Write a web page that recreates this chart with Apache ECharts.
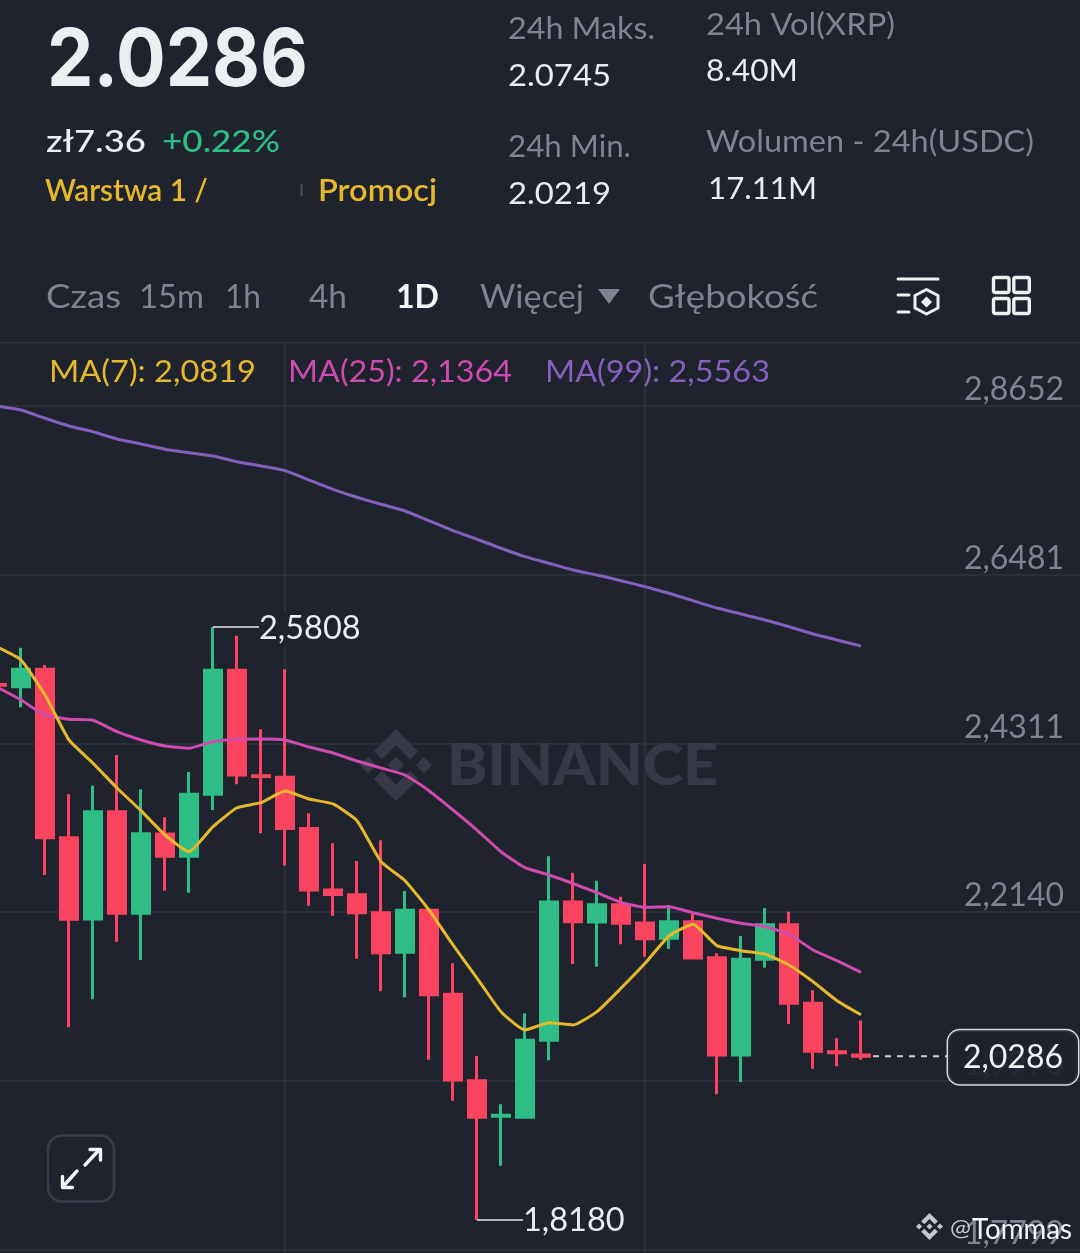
<!DOCTYPE html>
<html>
<head>
<meta charset="utf-8">
<style>html,body{margin:0;padding:0;background:#1e232d}#c{width:1080px;height:1253px}</style>
<script src="https://cdn.jsdelivr.net/npm/echarts@6/dist/echarts.min.js"></script>
</head>
<body>
<div id="c"></div>
<script>
const opens  = [2.5068,2.5040,2.5264,2.3097,2.2051,2.3432,2.2125,2.3145,2.2858,2.3656,2.5251,2.3895,2.3875,2.3216,2.2425,2.2364,2.2132,2.1623,2.2163,2.1083,1.9971,1.9515,1.9500,2.0491,2.2270,2.2013,2.2235,2.2000,2.1803,2.2017,2.1553,2.0302,2.1533,2.1978,2.0967,2.0342,2.0300];
const closes = [2.5058,2.5264,2.3097,2.2047,2.3432,2.2125,2.3149,2.2858,2.3656,2.5251,2.3904,2.3885,2.3216,2.2425,2.2365,2.2132,2.1618,2.2163,2.1077,1.9980,1.9500,1.9525,2.0491,2.2270,2.2017,2.2235,2.1996,2.1798,2.2017,2.1550,2.0302,2.1533,2.1978,2.0967,2.0349,2.0330,2.0286];
const highs  = [2.5075,2.5542,2.5320,2.3656,2.3766,2.4161,2.3720,2.3360,2.3943,2.5808,2.5697,2.4492,2.5264,2.3411,2.3025,2.2798,2.3064,2.2412,2.2163,2.1481,2.0289,1.9667,2.0838,2.2859,2.2647,2.2544,2.2338,2.2759,2.2232,2.2116,2.1610,2.1833,2.2193,2.2145,2.1134,2.0516,2.0745];
const lows   = [2.5049,2.4775,2.2617,2.0658,2.1018,2.1759,2.1524,2.2416,2.2390,2.3454,2.3785,2.3154,2.2740,2.2223,2.2094,2.1541,2.1121,2.1044,2.0241,1.9713,1.8180,1.8877,1.9500,2.0233,2.1472,2.1438,2.1726,2.1566,2.1665,2.1533,1.9796,1.9954,2.1425,2.0700,2.0125,2.0156,2.0240];
const ma7  = [2.5551,2.5384,2.4934,2.4355,2.4055,2.3737,2.3445,2.3132,2.2917,2.3239,2.3483,2.3548,2.3698,2.3595,2.3531,2.3316,2.2789,2.2544,2.2167,2.1717,2.1292,2.0859,2.0623,2.0717,2.0688,2.0859,2.1160,2.1481,2.1833,2.1983,2.1708,2.1644,2.1601,2.1460,2.1245,2.1000,2.0819];
const ma25 = [2.5036,2.4869,2.4676,2.4621,2.4608,2.4461,2.4355,2.4277,2.4248,2.4333,2.4363,2.4367,2.4355,2.4264,2.4187,2.4084,2.3994,2.3904,2.3702,2.3454,2.3196,2.2917,2.2711,2.2617,2.2508,2.2390,2.2266,2.2202,2.2210,2.2132,2.2060,2.1996,2.1952,2.1855,2.1653,2.1515,2.1364];
const ma99 = [2.8652,2.8601,2.8494,2.8395,2.8321,2.8227,2.8163,2.8095,2.8051,2.8009,2.7935,2.7880,2.7820,2.7700,2.7580,2.7477,2.7387,2.7301,2.7176,2.7048,2.6937,2.6821,2.6713,2.6628,2.6542,2.6477,2.6404,2.6327,2.6242,2.6147,2.6053,2.5976,2.5899,2.5812,2.5718,2.5641,2.5563];
const yTicks = [2.8652,2.6481,2.4311,2.2140,1.9970,1.7799];
const lastPrice = 2.0286;
const highMark = 2.5808;
const lowMark = 1.8180;
const categories = [];
for (let n = 1; n <= 46; n++) categories.push('D' + n);
const gridDays = [categories[12], categories[27]];

const BG='#1e232d', GRID='#2f343e', GREY='#7f8590', WHITE='#eaecef', YEL='#e6b82c', GREEN='#2ebd85', RED='#fb4560', PINK='#cf4bb0', PURP='#8560bd';
const FONT='Lato';
const comma = v => v.toFixed(4).replace('.', ',');

const mctx = document.createElement('canvas').getContext('2d');
function t(text,x,cy,w,size,fill,weight,family,z){
  const fam = family||FONT, wt = weight||400;
  mctx.font = wt+' '+size+'px "'+fam+'"';
  const m = mctx.measureText(text).width;
  return {type:'text',x:x,y:cy+1,scaleX:w?w/m:1,z:z==null?10:z,silent:true,
    style:{text:text,x:0,y:0,fontFamily:fam,fontSize:size,fontWeight:wt,fill:fill,verticalAlign:'middle',align:'left'}};
}
const LOGO_PIECES=[
  [[38.73,53.2],[63.32,28.62],[87.92,53.22],[102.22,38.91],[63.32,0],[24.42,38.9]],
  [[0,63.31],[14.3,49],[28.61,63.31],[14.3,77.61]],
  [[38.73,73.41],[63.32,98],[87.92,73.4],[102.23,87.69],[63.33,126.6],[24.42,87.72]],
  [[98,63.31],[112.3,49],[126.61,63.3],[112.3,77.62]],
  [[77.83,63.3],[63.32,48.78],[48.81,63.28],[63.32,77.8]]
];
const logo=(x,y,s,fill,z)=>LOGO_PIECES.map(p=>({type:'polygon',z:z,silent:true,
  shape:{points:p.map(q=>[x+q[0]*s/126.61,y+q[1]*s/126.61])},style:{fill:fill}}));
const line=(a,b,c,d,col,w)=>({type:'line',z:10,silent:true,shape:{x1:a,y1:b,x2:c,y2:d},style:{stroke:col,lineWidth:w,lineCap:'round'}});
const sq=(x,y)=>({type:'rect',z:10,silent:true,shape:{x:x,y:y,width:15.5,height:15,r:2},style:{fill:'none',stroke:'#f0f1f3',lineWidth:3.4}});
const poly=(pts,st)=>({type:'polyline',z:10,silent:true,shape:{points:pts},style:Object.assign({fill:'none',stroke:'#f0f1f3',lineWidth:3,lineJoin:'round',lineCap:'round'},st||{})});

const graphic=[
  {type:'rect',z:1,silent:true,shape:{x:0,y:342,width:1080,height:1.5},style:{fill:GRID}},
  t('2.0286',47,61,261,80,'#eceef1',700,'Inter'),
  t('zł7.36',46,141,100,31,'#eceef1',500),
  t('+0.22%',162,141,118,31,GREEN,500),
  t('Warstwa 1 /',45,190,163,30,YEL,600),
  {type:'rect',z:10,silent:true,shape:{x:300.5,y:184,width:2,height:12},style:{fill:'#4a4f58'}},
  t('Promocj',318,190,119,30,YEL,600),
  t('24h Maks.',508,28,147,31,GREY),
  t('2.0745',508,75,103,31,WHITE),
  t('24h Min.',508,146,123,31,GREY),
  t('2.0219',508,193,103,31,WHITE),
  t('24h Vol(XRP)',706,24,189,31,GREY),
  t('8.40M',706,70,92,31,WHITE),
  t('Wolumen - 24h(USDC)',706,141,328,31,GREY),
  t('17.11M',708,188,109,31,WHITE),
  t('Czas',46,297,75,32,GREY),
  t('15m',139,297,65,32,GREY),
  t('1h',225,297,36,32,GREY),
  t('4h',309,297,38,32,GREY),
  t('1D',396,297,43,32,'#f4f5f7',700),
  t('Więcej',480,297,104,32,GREY),
  {type:'polygon',z:10,silent:true,shape:{points:[[598,289],[620,289],[609,304]]},style:{fill:GREY}},
  t('Głębokość',648,297,170,32,GREY),
  line(898,279,938,279,'#f0f1f3',3),
  line(898,295,909,295,'#f0f1f3',3),
  line(898,312,909,312,'#f0f1f3',3),
  {type:'polygon',z:10,silent:true,shape:{points:[[926.5,289.5],[938,295.5],[938,308],[926.5,314],[915,308],[915,295.5]]},style:{fill:'none',stroke:'#f0f1f3',lineWidth:3,lineJoin:'round'}},
  {type:'polygon',z:10,silent:true,shape:{points:[[926.5,296.5],[932,302],[926.5,307.5],[921,302]]},style:{fill:'#f0f1f3'}},
  sq(993.5,277.5),sq(1013.8,277.5),sq(993.5,298.5),sq(1013.8,298.5),
  t('MA(7): 2,0819',49,371,207,30,YEL),
  t('MA(25): 2,1364',288,371,224,30,PINK),
  t('MA(99): 2,5563',545,371,225,30,PURP),
  ...logo(360,729,72,'#353a46',1),
  t('BINANCE',447,765,271,58,'#353a46',900,FONT,1),
  {type:'rect',z:10,silent:true,shape:{x:48,y:1135.5,width:66,height:66,r:14},style:{fill:'none',stroke:'#383d48',lineWidth:2.5}},
  line(85,1165,99,1150,'#f4f5f7',3.4),
  poly([[90,1149.5],[100.5,1149.5],[100.5,1160]],{lineWidth:3.4,stroke:'#f4f5f7'}),
  line(77,1171,63.5,1186,'#f4f5f7',3.4),
  poly([[62.5,1176.5],[62.5,1187.5],[72.5,1187.5]],{lineWidth:3.4,stroke:'#f4f5f7'}),
  ...logo(916,1213,27,'#c4c7cc',10),
  t('@',950,1227,21,24,'#c4c7cc'),
  t('Tommas',972,1229,100,28,'#f4f5f7')
];

const chart = echarts.init(document.getElementById('c'), null, {renderer:'canvas'});
chart.setOption({
  animation:false,
  backgroundColor:BG,
  grid:{left:-15,top:342,width:1104,height:911,containLabel:false,outerBoundsMode:'none'},
  xAxis:{type:'category',data:categories,boundaryGap:true,axisLine:{show:false},axisTick:{show:false},axisLabel:{show:false},splitLine:{show:false}},
  yAxis:{type:'value',position:'right',min:1.7754,max:2.9475,scale:true,
    axisLine:{show:false},
    axisTick:{show:false,customValues:yTicks},
    axisLabel:{inside:true,margin:25,customValues:yTicks,color:GREY,fontFamily:FONT,fontSize:32,verticalAlign:'bottom',formatter:comma},
    splitLine:{show:true,lineStyle:{color:GRID,width:1.5}}},
  graphic:graphic,
  series:[
    {type:'line',name:'last',z:1,silent:true,showSymbol:false,
      data:categories.map((c,i)=>(i>=36&&i<=40)?lastPrice:null),
      lineStyle:{color:'#c9ccd1',width:2,type:[6,6]},
      markLine:{silent:true,symbol:'none',z:0,label:{show:false},lineStyle:{color:GRID,width:1.5,type:'solid'},
        data:gridDays.map(d=>({xAxis:d}))},
      markPoint:{silent:true,z:8,symbolSize:0,
        data:[{coord:[categories[42],lastPrice],
          label:{show:true,position:'inside',offset:[8,1],formatter:comma(lastPrice),color:'#f0f1f3',fontFamily:FONT,fontSize:32,
            backgroundColor:'rgba(30,35,45,0.92)',borderColor:'#d5d7db',borderWidth:1.5,borderRadius:12,padding:[11,15,11,15],width:100,align:'center'}}]}},
    {type:'candlestick',name:'XRP',z:2,barWidth:18,
      data:opens.map((o,i)=>[o,closes[i],lows[i],highs[i]]),
      itemStyle:{color:GREEN,color0:RED,borderColor:GREEN,borderColor0:RED,borderWidth:3},
      markLine:{silent:true,symbol:'none',z:4,label:{show:false},lineStyle:{color:'#e6e8eb',width:1.5,type:'solid'},
        data:[[{coord:[categories[9],highMark]},{coord:[categories[11],highMark]}],
              [{coord:[categories[20],lowMark]},{coord:[categories[22],lowMark]}]]},
      markPoint:{silent:true,z:6,symbolSize:0,
        data:[
          {coord:[categories[11],highMark],label:{show:true,position:'right',distance:0,offset:[-2,2],formatter:comma(highMark),color:WHITE,fontFamily:FONT,fontSize:32.5,backgroundColor:BG}},
          {coord:[categories[22],lowMark],label:{show:true,position:'right',distance:0,offset:[-2,1],formatter:comma(lowMark),color:WHITE,fontFamily:FONT,fontSize:32.5,backgroundColor:BG}}
        ]}},
    {type:'line',name:'MA(99)',z:3,data:ma99,showSymbol:false,smooth:0.15,lineStyle:{color:PURP,width:3}},
    {type:'line',name:'MA(25)',z:3,data:ma25,showSymbol:false,smooth:0.15,lineStyle:{color:PINK,width:3}},
    {type:'line',name:'MA(7)',z:3,data:ma7,showSymbol:false,smooth:0.15,lineStyle:{color:YEL,width:3}}
  ]
});
</script>
</body>
</html>
